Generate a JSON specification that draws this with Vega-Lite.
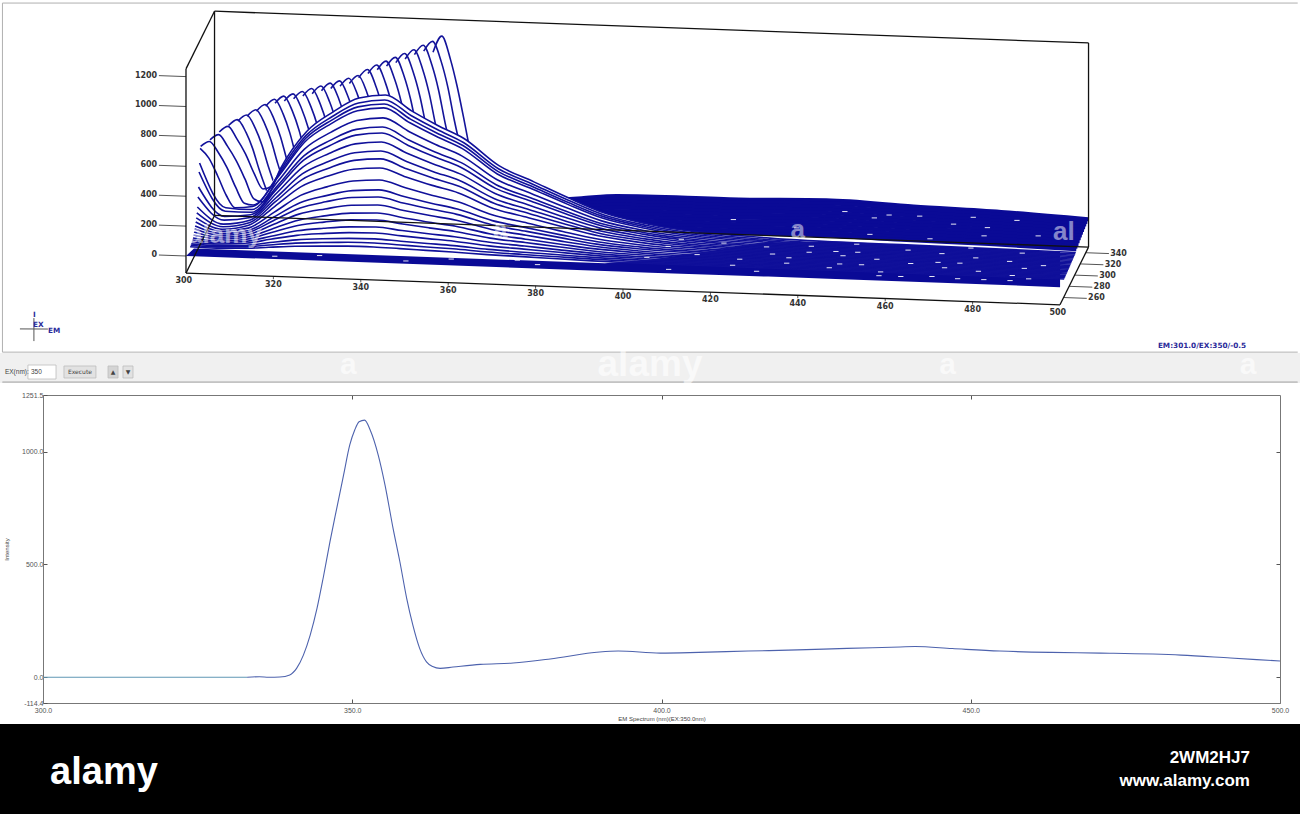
{"$schema":"https://vega.github.io/schema/vega-lite/v6.json","padding":0,"background":"#ffffff","spacing":0,"bounds":"flush","config":{"view":{"stroke":null},"concat":{"spacing":0}},
"datasets":{
"ridge":[
{"ex":306,"em":306,"i":658},{"ex":306,"em":308,"i":700},{"ex":306,"em":310,"i":616},{"ex":306,"em":311.5,"i":511},{"ex":306,"em":313,"i":371},{"ex":306,"em":315,"i":210},
{"ex":308,"em":308,"i":682},{"ex":308,"em":310,"i":725},{"ex":308,"em":312,"i":638},{"ex":308,"em":313.5,"i":529},{"ex":308,"em":315,"i":384},{"ex":308,"em":317,"i":218},
{"ex":310,"em":310,"i":710},{"ex":310,"em":312,"i":755},{"ex":310,"em":314,"i":664},{"ex":310,"em":315.5,"i":551},{"ex":310,"em":317,"i":400},{"ex":310,"em":319,"i":227},
{"ex":312,"em":312,"i":738},{"ex":312,"em":314,"i":785},{"ex":312,"em":316,"i":691},{"ex":312,"em":317.5,"i":573},{"ex":312,"em":319,"i":416},{"ex":312,"em":321,"i":236},
{"ex":314,"em":314,"i":766},{"ex":314,"em":316,"i":815},{"ex":314,"em":318,"i":717},{"ex":314,"em":319.5,"i":595},{"ex":314,"em":321,"i":432},{"ex":314,"em":323,"i":245},
{"ex":316,"em":316,"i":780},{"ex":316,"em":318,"i":830},{"ex":316,"em":320,"i":730},{"ex":316,"em":321.5,"i":606},{"ex":316,"em":323,"i":440},{"ex":316,"em":325,"i":249},
{"ex":318,"em":318,"i":790},{"ex":318,"em":320,"i":840},{"ex":318,"em":322,"i":739},{"ex":318,"em":323.5,"i":613},{"ex":318,"em":325,"i":445},{"ex":318,"em":327,"i":252},
{"ex":320,"em":320,"i":799},{"ex":320,"em":322,"i":850},{"ex":320,"em":324,"i":748},{"ex":320,"em":325.5,"i":621},{"ex":320,"em":327,"i":451},{"ex":320,"em":329,"i":255},
{"ex":322,"em":322,"i":813},{"ex":322,"em":324,"i":865},{"ex":322,"em":326,"i":761},{"ex":322,"em":327.5,"i":631},{"ex":322,"em":329,"i":458},{"ex":322,"em":331,"i":260},
{"ex":324,"em":324,"i":823},{"ex":324,"em":326,"i":876},{"ex":324,"em":328,"i":771},{"ex":324,"em":329.5,"i":639},{"ex":324,"em":331,"i":464},{"ex":324,"em":333,"i":263},
{"ex":326,"em":326,"i":837},{"ex":326,"em":328,"i":890},{"ex":326,"em":330,"i":783},{"ex":326,"em":331.5,"i":650},{"ex":326,"em":333,"i":472},{"ex":326,"em":335,"i":267},
{"ex":328,"em":328,"i":846},{"ex":328,"em":330,"i":900},{"ex":328,"em":332,"i":792},{"ex":328,"em":333.5,"i":657},{"ex":328,"em":335,"i":477},{"ex":328,"em":337,"i":270},
{"ex":330,"em":330,"i":857},{"ex":330,"em":332,"i":912},{"ex":330,"em":334,"i":803},{"ex":330,"em":335.5,"i":666},{"ex":330,"em":337,"i":483},{"ex":330,"em":339,"i":274},
{"ex":332,"em":332,"i":870},{"ex":332,"em":334,"i":925},{"ex":332,"em":336,"i":814},{"ex":332,"em":337.5,"i":675},{"ex":332,"em":339,"i":490},{"ex":332,"em":341,"i":278},
{"ex":334,"em":334,"i":902},{"ex":334,"em":336,"i":960},{"ex":334,"em":338,"i":845},{"ex":334,"em":339.5,"i":701},{"ex":334,"em":341,"i":509},{"ex":334,"em":343,"i":288},
{"ex":336,"em":336,"i":926},{"ex":336,"em":338,"i":985},{"ex":336,"em":340,"i":867},{"ex":336,"em":341.5,"i":719},{"ex":336,"em":343,"i":522},{"ex":336,"em":345,"i":296},
{"ex":338,"em":338,"i":945},{"ex":338,"em":340,"i":1005},{"ex":338,"em":342,"i":884},{"ex":338,"em":343.5,"i":734},{"ex":338,"em":345,"i":533},{"ex":338,"em":347,"i":302},
{"ex":340,"em":340,"i":964},{"ex":340,"em":342,"i":1025},{"ex":340,"em":344,"i":902},{"ex":340,"em":345.5,"i":748},{"ex":340,"em":347,"i":543},{"ex":340,"em":349,"i":308},
{"ex":342,"em":342,"i":982},{"ex":342,"em":344,"i":1045},{"ex":342,"em":346,"i":920},{"ex":342,"em":347.5,"i":763},{"ex":342,"em":349,"i":554},{"ex":342,"em":351,"i":314},
{"ex":344,"em":344,"i":1001},{"ex":344,"em":346,"i":1065},{"ex":344,"em":348,"i":937},{"ex":344,"em":349.5,"i":777},{"ex":344,"em":351,"i":564},{"ex":344,"em":353,"i":320},
{"ex":346,"em":346,"i":1025},{"ex":346,"em":348,"i":1090},{"ex":346,"em":350,"i":959},{"ex":346,"em":351.5,"i":796},{"ex":346,"em":353,"i":578},{"ex":346,"em":355,"i":327},
{"ex":348,"em":348,"i":1043},{"ex":348,"em":350,"i":1110},{"ex":348,"em":352,"i":977},{"ex":348,"em":353.5,"i":810},{"ex":348,"em":355,"i":588},{"ex":348,"em":357,"i":333},
{"ex":350,"em":350,"i":1030},{"ex":350,"em":352,"i":1140},{"ex":350,"em":354,"i":985},{"ex":350,"em":355.5,"i":810},{"ex":350,"em":357,"i":600},{"ex":350,"em":359,"i":300}],
"rear":[
{"ex":350,"em":376,"i":66},{"ex":350,"em":384,"i":90},{"ex":350,"em":392,"i":113},{"ex":350,"em":420,"i":120},{"ex":350,"em":440,"i":135},{"ex":350,"em":460,"i":115},{"ex":350,"em":480,"i":100},{"ex":350,"em":500,"i":72},
{"ex":346,"em":376,"i":63},{"ex":346,"em":384,"i":86},{"ex":346,"em":392,"i":108},{"ex":346,"em":420,"i":115},{"ex":346,"em":440,"i":130},{"ex":346,"em":460,"i":110},{"ex":346,"em":480,"i":96},{"ex":346,"em":500,"i":69},
{"ex":342,"em":376,"i":60},{"ex":342,"em":384,"i":83},{"ex":342,"em":392,"i":104},{"ex":342,"em":420,"i":110},{"ex":342,"em":440,"i":124},{"ex":342,"em":460,"i":104},{"ex":342,"em":480,"i":92},{"ex":342,"em":500,"i":66},
{"ex":338,"em":376,"i":57},{"ex":338,"em":384,"i":79},{"ex":338,"em":392,"i":99},{"ex":338,"em":420,"i":106},{"ex":338,"em":440,"i":119},{"ex":338,"em":460,"i":100},{"ex":338,"em":480,"i":88},{"ex":338,"em":500,"i":63},
{"ex":334,"em":376,"i":54},{"ex":334,"em":384,"i":75},{"ex":334,"em":392,"i":94},{"ex":334,"em":420,"i":100},{"ex":334,"em":440,"i":112},{"ex":334,"em":460,"i":94},{"ex":334,"em":480,"i":83},{"ex":334,"em":500,"i":60},
{"ex":330,"em":376,"i":50},{"ex":330,"em":384,"i":70},{"ex":330,"em":392,"i":88},{"ex":330,"em":420,"i":94},{"ex":330,"em":440,"i":105},{"ex":330,"em":460,"i":88},{"ex":330,"em":480,"i":78},{"ex":330,"em":500,"i":56},
{"ex":326,"em":376,"i":47},{"ex":326,"em":384,"i":66},{"ex":326,"em":392,"i":82},{"ex":326,"em":420,"i":88},{"ex":326,"em":440,"i":99},{"ex":326,"em":460,"i":83},{"ex":326,"em":480,"i":73},{"ex":326,"em":500,"i":53},
{"ex":322,"em":376,"i":44},{"ex":322,"em":384,"i":61},{"ex":322,"em":392,"i":77},{"ex":322,"em":420,"i":82},{"ex":322,"em":440,"i":92},{"ex":322,"em":460,"i":77},{"ex":322,"em":480,"i":68},{"ex":322,"em":500,"i":49},
{"ex":318,"em":376,"i":41},{"ex":318,"em":384,"i":57},{"ex":318,"em":392,"i":71},{"ex":318,"em":420,"i":76},{"ex":318,"em":440,"i":85},{"ex":318,"em":460,"i":71},{"ex":318,"em":480,"i":63},{"ex":318,"em":500,"i":45},
{"ex":314,"em":376,"i":38},{"ex":314,"em":384,"i":52},{"ex":314,"em":392,"i":66},{"ex":314,"em":420,"i":70},{"ex":314,"em":440,"i":78},{"ex":314,"em":460,"i":66},{"ex":314,"em":480,"i":58},{"ex":314,"em":500,"i":42},
{"ex":310,"em":376,"i":35},{"ex":310,"em":384,"i":48},{"ex":310,"em":392,"i":60},{"ex":310,"em":420,"i":64},{"ex":310,"em":440,"i":72},{"ex":310,"em":460,"i":60},{"ex":310,"em":480,"i":53},{"ex":310,"em":500,"i":38},
{"ex":306,"em":376,"i":33},{"ex":306,"em":384,"i":45},{"ex":306,"em":392,"i":57},{"ex":306,"em":420,"i":60},{"ex":306,"em":440,"i":68},{"ex":306,"em":460,"i":57},{"ex":306,"em":480,"i":50},{"ex":306,"em":500,"i":36}],
"mask":[{"ex":304,"em":313,"i":150},{"ex":304,"em":318,"i":390},{"ex":304,"em":324,"i":645},{"ex":304,"em":330,"i":781},{"ex":304,"em":336,"i":881},{"ex":304,"em":342,"i":908},{"ex":304,"em":348,"i":808},{"ex":304,"em":354,"i":717},{"ex":304,"em":360,"i":636},{"ex":304,"em":368,"i":463},{"ex":304,"em":376,"i":363},{"ex":304,"em":384,"i":263},{"ex":304,"em":392,"i":173},{"ex":304,"em":402,"i":109},{"ex":304,"em":430,"i":44},{"ex":304,"em":460,"i":32},{"ex":304,"em":500,"i":22}],
"floor":[{"ex":247,"em":300,"i":0},{"ex":260,"em":301,"i":2},{"ex":260,"em":395,"i":3},{"ex":268,"em":405,"i":8},{"ex":284,"em":418,"i":22},{"ex":298,"em":430,"i":37},{"ex":304,"em":445,"i":38},{"ex":304,"em":496.4,"i":22}],
"front":[
{"ex":262,"em":300,"i":6},{"ex":262,"em":306,"i":3},{"ex":262,"em":312,"i":8},{"ex":262,"em":318,"i":21},{"ex":262,"em":324,"i":35},{"ex":262,"em":330,"i":42},{"ex":262,"em":336,"i":48},{"ex":262,"em":342,"i":49},{"ex":262,"em":348,"i":44},{"ex":262,"em":354,"i":39},{"ex":262,"em":360,"i":34},{"ex":262,"em":368,"i":25},{"ex":262,"em":376,"i":20},{"ex":262,"em":384,"i":14},{"ex":262,"em":392,"i":9},{"ex":262,"em":402,"i":6},{"ex":262,"em":430,"i":4},{"ex":262,"em":460,"i":3},{"ex":262,"em":500,"i":2},
{"ex":264,"em":300,"i":8},{"ex":264,"em":306,"i":4},{"ex":264,"em":312,"i":10},{"ex":264,"em":318,"i":29},{"ex":264,"em":324,"i":48},{"ex":264,"em":330,"i":58},{"ex":264,"em":336,"i":66},{"ex":264,"em":342,"i":68},{"ex":264,"em":348,"i":61},{"ex":264,"em":354,"i":54},{"ex":264,"em":360,"i":48},{"ex":264,"em":368,"i":35},{"ex":264,"em":376,"i":27},{"ex":264,"em":384,"i":20},{"ex":264,"em":392,"i":13},{"ex":264,"em":402,"i":8},{"ex":264,"em":430,"i":5},{"ex":264,"em":460,"i":4},{"ex":264,"em":500,"i":3},
{"ex":266,"em":300,"i":10},{"ex":266,"em":306,"i":6},{"ex":266,"em":312,"i":13},{"ex":266,"em":318,"i":38},{"ex":266,"em":324,"i":62},{"ex":266,"em":330,"i":76},{"ex":266,"em":336,"i":85},{"ex":266,"em":342,"i":88},{"ex":266,"em":348,"i":78},{"ex":266,"em":354,"i":70},{"ex":266,"em":360,"i":62},{"ex":266,"em":368,"i":45},{"ex":266,"em":376,"i":35},{"ex":266,"em":384,"i":26},{"ex":266,"em":392,"i":17},{"ex":266,"em":402,"i":11},{"ex":266,"em":430,"i":6},{"ex":266,"em":460,"i":5},{"ex":266,"em":500,"i":3},
{"ex":268,"em":300,"i":15},{"ex":268,"em":306,"i":8},{"ex":268,"em":312,"i":19},{"ex":268,"em":318,"i":52},{"ex":268,"em":324,"i":85},{"ex":268,"em":330,"i":103},{"ex":268,"em":336,"i":116},{"ex":268,"em":342,"i":120},{"ex":268,"em":348,"i":107},{"ex":268,"em":354,"i":95},{"ex":268,"em":360,"i":84},{"ex":268,"em":368,"i":61},{"ex":268,"em":376,"i":48},{"ex":268,"em":384,"i":35},{"ex":268,"em":392,"i":23},{"ex":268,"em":402,"i":14},{"ex":268,"em":430,"i":8},{"ex":268,"em":460,"i":6},{"ex":268,"em":500,"i":4},
{"ex":270,"em":300,"i":20},{"ex":270,"em":306,"i":10},{"ex":270,"em":312,"i":24},{"ex":270,"em":318,"i":65},{"ex":270,"em":324,"i":108},{"ex":270,"em":330,"i":131},{"ex":270,"em":336,"i":147},{"ex":270,"em":342,"i":152},{"ex":270,"em":348,"i":135},{"ex":270,"em":354,"i":120},{"ex":270,"em":360,"i":106},{"ex":270,"em":368,"i":78},{"ex":270,"em":376,"i":61},{"ex":270,"em":384,"i":44},{"ex":270,"em":392,"i":29},{"ex":270,"em":402,"i":18},{"ex":270,"em":430,"i":9},{"ex":270,"em":460,"i":7},{"ex":270,"em":500,"i":5},
{"ex":272,"em":300,"i":27},{"ex":272,"em":306,"i":13},{"ex":272,"em":312,"i":30},{"ex":272,"em":318,"i":83},{"ex":272,"em":324,"i":136},{"ex":272,"em":330,"i":165},{"ex":272,"em":336,"i":186},{"ex":272,"em":342,"i":192},{"ex":272,"em":348,"i":171},{"ex":272,"em":354,"i":152},{"ex":272,"em":360,"i":134},{"ex":272,"em":368,"i":98},{"ex":272,"em":376,"i":77},{"ex":272,"em":384,"i":56},{"ex":272,"em":392,"i":36},{"ex":272,"em":402,"i":23},{"ex":272,"em":430,"i":11},{"ex":272,"em":460,"i":8},{"ex":272,"em":500,"i":5},
{"ex":274,"em":300,"i":39},{"ex":274,"em":306,"i":18},{"ex":274,"em":312,"i":37},{"ex":274,"em":318,"i":99},{"ex":274,"em":324,"i":164},{"ex":274,"em":330,"i":199},{"ex":274,"em":336,"i":224},{"ex":274,"em":342,"i":231},{"ex":274,"em":348,"i":206},{"ex":274,"em":354,"i":182},{"ex":274,"em":360,"i":162},{"ex":274,"em":368,"i":118},{"ex":274,"em":376,"i":92},{"ex":274,"em":384,"i":67},{"ex":274,"em":392,"i":44},{"ex":274,"em":402,"i":28},{"ex":274,"em":430,"i":12},{"ex":274,"em":460,"i":9},{"ex":274,"em":500,"i":6},
{"ex":276,"em":300,"i":52},{"ex":276,"em":306,"i":23},{"ex":276,"em":312,"i":44},{"ex":276,"em":318,"i":119},{"ex":276,"em":324,"i":197},{"ex":276,"em":330,"i":238},{"ex":276,"em":336,"i":269},{"ex":276,"em":342,"i":277},{"ex":276,"em":348,"i":247},{"ex":276,"em":354,"i":219},{"ex":276,"em":360,"i":194},{"ex":276,"em":368,"i":141},{"ex":276,"em":376,"i":111},{"ex":276,"em":384,"i":80},{"ex":276,"em":392,"i":53},{"ex":276,"em":402,"i":33},{"ex":276,"em":430,"i":14},{"ex":276,"em":460,"i":10},{"ex":276,"em":500,"i":7},
{"ex":278,"em":300,"i":64},{"ex":278,"em":306,"i":28},{"ex":278,"em":312,"i":52},{"ex":278,"em":318,"i":139},{"ex":278,"em":324,"i":229},{"ex":278,"em":330,"i":278},{"ex":278,"em":336,"i":313},{"ex":278,"em":342,"i":323},{"ex":278,"em":348,"i":287},{"ex":278,"em":354,"i":255},{"ex":278,"em":360,"i":226},{"ex":278,"em":368,"i":165},{"ex":278,"em":376,"i":129},{"ex":278,"em":384,"i":94},{"ex":278,"em":392,"i":61},{"ex":278,"em":402,"i":39},{"ex":278,"em":430,"i":16},{"ex":278,"em":460,"i":12},{"ex":278,"em":500,"i":8},
{"ex":280,"em":300,"i":77},{"ex":280,"em":306,"i":33},{"ex":280,"em":312,"i":58},{"ex":280,"em":318,"i":156},{"ex":280,"em":324,"i":258},{"ex":280,"em":330,"i":312},{"ex":280,"em":336,"i":352},{"ex":280,"em":342,"i":363},{"ex":280,"em":348,"i":323},{"ex":280,"em":354,"i":287},{"ex":280,"em":360,"i":254},{"ex":280,"em":368,"i":185},{"ex":280,"em":376,"i":145},{"ex":280,"em":384,"i":105},{"ex":280,"em":392,"i":69},{"ex":280,"em":402,"i":44},{"ex":280,"em":430,"i":18},{"ex":280,"em":460,"i":13},{"ex":280,"em":500,"i":9},
{"ex":282,"em":300,"i":96},{"ex":282,"em":306,"i":40},{"ex":282,"em":312,"i":68},{"ex":282,"em":318,"i":181},{"ex":282,"em":324,"i":300},{"ex":282,"em":330,"i":363},{"ex":282,"em":336,"i":409},{"ex":282,"em":342,"i":422},{"ex":282,"em":348,"i":376},{"ex":282,"em":354,"i":333},{"ex":282,"em":360,"i":295},{"ex":282,"em":368,"i":215},{"ex":282,"em":376,"i":169},{"ex":282,"em":384,"i":122},{"ex":282,"em":392,"i":80},{"ex":282,"em":402,"i":51},{"ex":282,"em":430,"i":20},{"ex":282,"em":460,"i":15},{"ex":282,"em":500,"i":10},
{"ex":284,"em":300,"i":116},{"ex":284,"em":306,"i":47},{"ex":284,"em":312,"i":80},{"ex":284,"em":318,"i":213},{"ex":284,"em":324,"i":351},{"ex":284,"em":330,"i":426},{"ex":284,"em":336,"i":480},{"ex":284,"em":342,"i":495},{"ex":284,"em":348,"i":441},{"ex":284,"em":354,"i":391},{"ex":284,"em":360,"i":347},{"ex":284,"em":368,"i":252},{"ex":284,"em":376,"i":198},{"ex":284,"em":384,"i":144},{"ex":284,"em":392,"i":94},{"ex":284,"em":402,"i":59},{"ex":284,"em":430,"i":22},{"ex":284,"em":460,"i":16},{"ex":284,"em":500,"i":11},
{"ex":286,"em":300,"i":142},{"ex":286,"em":306,"i":56},{"ex":286,"em":312,"i":89},{"ex":286,"em":318,"i":236},{"ex":286,"em":324,"i":389},{"ex":286,"em":330,"i":471},{"ex":286,"em":336,"i":532},{"ex":286,"em":342,"i":548},{"ex":286,"em":348,"i":488},{"ex":286,"em":354,"i":433},{"ex":286,"em":360,"i":384},{"ex":286,"em":368,"i":279},{"ex":286,"em":376,"i":219},{"ex":286,"em":384,"i":159},{"ex":286,"em":392,"i":104},{"ex":286,"em":402,"i":66},{"ex":286,"em":430,"i":24},{"ex":286,"em":460,"i":18},{"ex":286,"em":500,"i":12},
{"ex":288,"em":300,"i":174},{"ex":288,"em":306,"i":66},{"ex":288,"em":312,"i":98},{"ex":288,"em":318,"i":255},{"ex":288,"em":324,"i":421},{"ex":288,"em":330,"i":510},{"ex":288,"em":336,"i":575},{"ex":288,"em":342,"i":593},{"ex":288,"em":348,"i":528},{"ex":288,"em":354,"i":468},{"ex":288,"em":360,"i":415},{"ex":288,"em":368,"i":302},{"ex":288,"em":376,"i":237},{"ex":288,"em":384,"i":172},{"ex":288,"em":392,"i":113},{"ex":288,"em":402,"i":71},{"ex":288,"em":430,"i":26},{"ex":288,"em":460,"i":19},{"ex":288,"em":500,"i":13},
{"ex":290,"em":300,"i":233},{"ex":290,"em":306,"i":85},{"ex":290,"em":312,"i":109},{"ex":290,"em":318,"i":278},{"ex":290,"em":324,"i":459},{"ex":290,"em":330,"i":556},{"ex":290,"em":336,"i":627},{"ex":290,"em":342,"i":646},{"ex":290,"em":348,"i":575},{"ex":290,"em":354,"i":510},{"ex":290,"em":360,"i":452},{"ex":290,"em":368,"i":329},{"ex":290,"em":376,"i":258},{"ex":290,"em":384,"i":187},{"ex":290,"em":392,"i":123},{"ex":290,"em":402,"i":78},{"ex":290,"em":430,"i":28},{"ex":290,"em":460,"i":21},{"ex":290,"em":500,"i":14},
{"ex":292,"em":300,"i":293},{"ex":292,"em":306,"i":103},{"ex":292,"em":312,"i":120},{"ex":292,"em":318,"i":301},{"ex":292,"em":324,"i":496},{"ex":292,"em":330,"i":601},{"ex":292,"em":336,"i":678},{"ex":292,"em":342,"i":699},{"ex":292,"em":348,"i":622},{"ex":292,"em":354,"i":552},{"ex":292,"em":360,"i":489},{"ex":292,"em":368,"i":356},{"ex":292,"em":376,"i":280},{"ex":292,"em":384,"i":203},{"ex":292,"em":392,"i":133},{"ex":292,"em":402,"i":84},{"ex":292,"em":430,"i":30},{"ex":292,"em":460,"i":22},{"ex":292,"em":500,"i":15},
{"ex":294,"em":300,"i":386},{"ex":294,"em":306,"i":130},{"ex":294,"em":312,"i":129},{"ex":294,"em":318,"i":314},{"ex":294,"em":324,"i":519},{"ex":294,"em":330,"i":629},{"ex":294,"em":336,"i":709},{"ex":294,"em":342,"i":731},{"ex":294,"em":348,"i":651},{"ex":294,"em":354,"i":577},{"ex":294,"em":360,"i":512},{"ex":294,"em":368,"i":373},{"ex":294,"em":376,"i":292},{"ex":294,"em":384,"i":212},{"ex":294,"em":392,"i":139},{"ex":294,"em":402,"i":88},{"ex":294,"em":430,"i":32},{"ex":294,"em":460,"i":24},{"ex":294,"em":500,"i":16},
{"ex":296,"em":300,"i":439},{"ex":296,"em":306,"i":146},{"ex":296,"em":312,"i":140},{"ex":296,"em":318,"i":338},{"ex":296,"em":324,"i":557},{"ex":296,"em":330,"i":675},{"ex":296,"em":336,"i":761},{"ex":296,"em":342,"i":785},{"ex":296,"em":348,"i":699},{"ex":296,"em":354,"i":620},{"ex":296,"em":360,"i":550},{"ex":296,"em":368,"i":400},{"ex":296,"em":376,"i":314},{"ex":296,"em":384,"i":228},{"ex":296,"em":392,"i":149},{"ex":296,"em":402,"i":94},{"ex":296,"em":430,"i":35},{"ex":296,"em":460,"i":26},{"ex":296,"em":500,"i":17},
{"ex":298,"em":300,"i":529},{"ex":298,"em":302,"i":466},{"ex":298,"em":304,"i":350},{"ex":298,"em":306,"i":220},{"ex":298,"em":308,"i":140},{"ex":298,"em":312,"i":153},{"ex":298,"em":318,"i":363},{"ex":298,"em":324,"i":599},{"ex":298,"em":330,"i":726},{"ex":298,"em":336,"i":819},{"ex":298,"em":342,"i":844},{"ex":298,"em":348,"i":751},{"ex":298,"em":354,"i":667},{"ex":298,"em":360,"i":591},{"ex":298,"em":368,"i":430},{"ex":298,"em":376,"i":338},{"ex":298,"em":384,"i":245},{"ex":298,"em":392,"i":160},{"ex":298,"em":402,"i":101},{"ex":298,"em":430,"i":37},{"ex":298,"em":460,"i":27},{"ex":298,"em":500,"i":18},
{"ex":300,"em":300,"i":535},{"ex":300,"em":302,"i":570},{"ex":300,"em":304,"i":500},{"ex":300,"em":306,"i":400},{"ex":300,"em":308,"i":270},{"ex":300,"em":310,"i":165},{"ex":300,"em":312,"i":155},{"ex":300,"em":318,"i":371},{"ex":300,"em":324,"i":613},{"ex":300,"em":330,"i":742},{"ex":300,"em":336,"i":837},{"ex":300,"em":342,"i":863},{"ex":300,"em":348,"i":768},{"ex":300,"em":354,"i":682},{"ex":300,"em":360,"i":604},{"ex":300,"em":368,"i":440},{"ex":300,"em":376,"i":345},{"ex":300,"em":384,"i":250},{"ex":300,"em":392,"i":164},{"ex":300,"em":402,"i":104},{"ex":300,"em":430,"i":39},{"ex":300,"em":460,"i":29},{"ex":300,"em":500,"i":19},
{"ex":302,"em":302,"i":573},{"ex":302,"em":304,"i":610},{"ex":302,"em":306,"i":535},{"ex":302,"em":308,"i":440},{"ex":302,"em":310,"i":320},{"ex":302,"em":312,"i":190},{"ex":302,"em":314,"i":170},{"ex":302,"em":318,"i":379},{"ex":302,"em":324,"i":626},{"ex":302,"em":330,"i":759},{"ex":302,"em":336,"i":856},{"ex":302,"em":342,"i":882},{"ex":302,"em":348,"i":785},{"ex":302,"em":354,"i":697},{"ex":302,"em":360,"i":617},{"ex":302,"em":368,"i":450},{"ex":302,"em":376,"i":353},{"ex":302,"em":384,"i":256},{"ex":302,"em":392,"i":168},{"ex":302,"em":402,"i":106},{"ex":302,"em":430,"i":41},{"ex":302,"em":460,"i":30},{"ex":302,"em":500,"i":20},
{"ex":304,"em":304,"i":620},{"ex":304,"em":306,"i":660},{"ex":304,"em":308,"i":580},{"ex":304,"em":310,"i":480},{"ex":304,"em":312,"i":350},{"ex":304,"em":314,"i":250},{"ex":304,"em":316,"i":270},{"ex":304,"em":318,"i":390},{"ex":304,"em":324,"i":645},{"ex":304,"em":330,"i":781},{"ex":304,"em":336,"i":881},{"ex":304,"em":342,"i":908},{"ex":304,"em":348,"i":808},{"ex":304,"em":354,"i":717},{"ex":304,"em":360,"i":636},{"ex":304,"em":368,"i":463},{"ex":304,"em":376,"i":363},{"ex":304,"em":384,"i":263},{"ex":304,"em":392,"i":173},{"ex":304,"em":402,"i":109},{"ex":304,"em":430,"i":44},{"ex":304,"em":460,"i":32},{"ex":304,"em":500,"i":22}],
"dashes":[{"ex":340,"em":455,"i":90},{"ex":340,"em":462,"i":90},{"ex":336,"em":470,"i":60},{"ex":332,"em":478,"i":60},{"ex":344,"em":484,"i":70},{"ex":330,"em":420,"i":60},{"ex":322,"em":435,"i":50},{"ex":318,"em":452,"i":40},{"ex":314,"em":466,"i":40},{"ex":326,"em":490,"i":40},{"ex":300,"em":410,"i":30},{"ex":296,"em":420,"i":30},{"ex":292,"em":430,"i":30},{"ex":288,"em":440,"i":20},{"ex":284,"em":448,"i":20},{"ex":280,"em":456,"i":20},{"ex":276,"em":464,"i":15},{"ex":272,"em":472,"i":10},{"ex":268,"em":480,"i":10},{"ex":264,"em":488,"i":5},{"ex":298,"em":462,"i":20},{"ex":294,"em":470,"i":20},{"ex":290,"em":478,"i":15},{"ex":286,"em":486,"i":15},{"ex":282,"em":494,"i":10},{"ex":278,"em":415,"i":15},{"ex":274,"em":425,"i":10},{"ex":270,"em":436,"i":10},{"ex":266,"em":446,"i":5},{"ex":262,"em":458,"i":5},{"ex":258,"em":470,"i":2},{"ex":256,"em":430,"i":2},{"ex":254,"em":380,"i":1},{"ex":252,"em":350,"i":1},{"ex":256,"em":330,"i":1},{"ex":252,"em":320,"i":1},{"ex":258,"em":360,"i":2},{"ex":254,"em":410,"i":1},{"ex":260,"em":375,"i":3},{"ex":304,"em":476,"i":26},{"ex":300,"em":488,"i":20},{"ex":296,"em":440,"i":30},{"ex":284,"em":408,"i":40},{"ex":276,"em":490,"i":10},{"ex":270,"em":404,"i":15},{"ex":256,"em":458,"i":2},{"ex":256,"em":463,"i":2},{"ex":256,"em":476,"i":1},{"ex":256,"em":482,"i":1},{"ex":256,"em":488,"i":1},{"ex":280,"em":470,"i":14},{"ex":280,"em":475,"i":14},{"ex":290,"em":446,"i":24},{"ex":290,"em":451,"i":24},{"ex":272,"em":448,"i":10},{"ex":272,"em":453,"i":10},{"ex":264,"em":424,"i":6},{"ex":282,"em":432,"i":22},{"ex":302,"em":450,"i":32},{"ex":278,"em":436,"i":16},{"ex":260,"em":492,"i":2},{"ex":338,"em":445,"i":110},{"ex":334,"em":452,"i":90},{"ex":344,"em":474,"i":80},{"ex":320,"em":478,"i":50}],
"frame":[{"g":"fb","em":300,"ex":247,"i":-114.4},{"g":"fb","em":500,"ex":247,"i":-114.4},{"g":"fl","em":300,"ex":247,"i":-114.4},{"g":"fl","em":300,"ex":247,"i":1251.5},{"g":"st","em":300,"ex":247,"i":1251.5},{"g":"st","em":300,"ex":350,"i":1251.5},{"g":"sb","em":300,"ex":247,"i":-114.4},{"g":"sb","em":300,"ex":350,"i":-114.4},{"g":"rl","em":300,"ex":350,"i":-114.4},{"g":"rl","em":300,"ex":350,"i":1251.5},{"g":"rt","em":300,"ex":350,"i":1251.5},{"g":"rt","em":500,"ex":350,"i":1251.5},{"g":"rr","em":500,"ex":350,"i":1251.5},{"g":"rr","em":500,"ex":350,"i":-114.4},{"g":"rb","em":300,"ex":350,"i":-114.4},{"g":"rb","em":500,"ex":350,"i":-114.4},{"g":"fr","em":500,"ex":247,"i":-114.4},{"g":"fr","em":500,"ex":350,"i":-114.4}],
"ticks":[{"g":"i0","em":293.8,"ex":247,"i":0},{"g":"i0","em":300,"ex":247,"i":0},{"g":"i2","em":293.8,"ex":247,"i":200},{"g":"i2","em":300,"ex":247,"i":200},{"g":"i4","em":293.8,"ex":247,"i":400},{"g":"i4","em":300,"ex":247,"i":400},{"g":"i6","em":293.8,"ex":247,"i":600},{"g":"i6","em":300,"ex":247,"i":600},{"g":"i8","em":293.8,"ex":247,"i":800},{"g":"i8","em":300,"ex":247,"i":800},{"g":"i10","em":293.8,"ex":247,"i":1000},{"g":"i10","em":300,"ex":247,"i":1000},{"g":"i12","em":293.8,"ex":247,"i":1200},{"g":"i12","em":300,"ex":247,"i":1200},
{"g":"e32","em":320,"ex":247,"i":-114.4},{"g":"e32","em":320,"ex":247,"i":-134},{"g":"e34","em":340,"ex":247,"i":-114.4},{"g":"e34","em":340,"ex":247,"i":-134},{"g":"e36","em":360,"ex":247,"i":-114.4},{"g":"e36","em":360,"ex":247,"i":-134},{"g":"e38","em":380,"ex":247,"i":-114.4},{"g":"e38","em":380,"ex":247,"i":-134},{"g":"e40","em":400,"ex":247,"i":-114.4},{"g":"e40","em":400,"ex":247,"i":-134},{"g":"e42","em":420,"ex":247,"i":-114.4},{"g":"e42","em":420,"ex":247,"i":-134},{"g":"e44","em":440,"ex":247,"i":-114.4},{"g":"e44","em":440,"ex":247,"i":-134},{"g":"e46","em":460,"ex":247,"i":-114.4},{"g":"e46","em":460,"ex":247,"i":-134},{"g":"e48","em":480,"ex":247,"i":-114.4},{"g":"e48","em":480,"ex":247,"i":-134},
{"g":"x26","em":500,"ex":260,"i":-114.4},{"g":"x26","em":505.3,"ex":260,"i":-114.4},{"g":"x28","em":500,"ex":280,"i":-114.4},{"g":"x28","em":505.3,"ex":280,"i":-114.4},{"g":"x30","em":500,"ex":300,"i":-114.4},{"g":"x30","em":505.3,"ex":300,"i":-114.4},{"g":"x32","em":500,"ex":320,"i":-114.4},{"g":"x32","em":505.3,"ex":320,"i":-114.4},{"g":"x34","em":500,"ex":340,"i":-114.4},{"g":"x34","em":505.3,"ex":340,"i":-114.4},
{"g":"cx","em":262,"ex":247,"i":-528},{"g":"cx","em":268.4,"ex":247,"i":-522},{"g":"cy","em":265.2,"ex":247,"i":-452},{"g":"cy","em":265.2,"ex":247,"i":-606}],
"labelsI":[{"t":"0","em":293.4,"ex":247,"i":0},{"t":"200","em":293.4,"ex":247,"i":200},{"t":"400","em":293.4,"ex":247,"i":400},{"t":"600","em":293.4,"ex":247,"i":600},{"t":"800","em":293.4,"ex":247,"i":800},{"t":"1000","em":293.4,"ex":247,"i":1000},{"t":"1200","em":293.4,"ex":247,"i":1200}],
"labelsEm":[{"t":"300","em":299.5,"ex":247,"i":-170},{"t":"320","em":320,"ex":247,"i":-170},{"t":"340","em":340,"ex":247,"i":-170},{"t":"360","em":360,"ex":247,"i":-170},{"t":"380","em":380,"ex":247,"i":-170},{"t":"400","em":400,"ex":247,"i":-170},{"t":"420","em":420,"ex":247,"i":-170},{"t":"440","em":440,"ex":247,"i":-170},{"t":"460","em":460,"ex":247,"i":-170},{"t":"480","em":480,"ex":247,"i":-170},{"t":"500","em":499.5,"ex":247,"i":-170}],
"labelsEx":[{"t":"260","em":505.6,"ex":260,"i":-114.4},{"t":"280","em":505.6,"ex":280,"i":-114.4},{"t":"300","em":505.6,"ex":300,"i":-114.4},{"t":"320","em":505.6,"ex":320,"i":-114.4},{"t":"340","em":505.6,"ex":340,"i":-114.4}],
"notes":[{"t":"EM:301.0/EX:350/-0.5","em":522.4,"ex":247,"i":-365},{"t":"I","em":265,"ex":247,"i":-431},{"t":"EX","em":265,"ex":247,"i":-498},{"t":"EM","em":268.4,"ex":247,"i":-534}],
"marks":[{"t":"alamy","em":308.9,"ex":247,"i":150},{"t":"a","em":371.9,"ex":247,"i":250},{"t":"a","em":440,"ex":247,"i":322},{"t":"al","em":500.9,"ex":247,"i":373}],
"panelEdge":[{"g":"top","u":258,"v":1692},{"g":"top","u":554.4,"v":1692},{"g":"left","u":258,"v":1692},{"g":"left","u":258,"v":-643},{"g":"bottom","u":258,"v":-643},{"g":"bottom","u":554.4,"v":-643}],
"spectrum":[{"s":"a","em":300,"i":0},{"s":"a","em":310,"i":0},{"s":"a","em":320,"i":0},{"s":"a","em":333,"i":0},{"s":"b","em":333,"i":0},{"s":"b","em":335,"i":2},{"s":"b","em":336.5,"i":0},{"s":"b","em":338.3,"i":1},{"s":"b","em":339.9,"i":10},{"s":"b","em":341,"i":39},{"s":"b","em":342.1,"i":98},{"s":"b","em":343.2,"i":187},{"s":"b","em":344.3,"i":305},{"s":"b","em":345.3,"i":440},{"s":"b","em":346.4,"i":601},{"s":"b","em":347.5,"i":750},{"s":"b","em":348.6,"i":897},{"s":"b","em":349.6,"i":1030},{"s":"b","em":350.4,"i":1096},{"s":"b","em":351.1,"i":1133},{"s":"b","em":352,"i":1140},{"s":"b","em":352.9,"i":1096},{"s":"b","em":354.2,"i":985},{"s":"b","em":355.3,"i":852},{"s":"b","em":356.6,"i":660},{"s":"b","em":357.7,"i":512},{"s":"b","em":358.8,"i":350},{"s":"b","em":359.8,"i":231},{"s":"b","em":360.9,"i":128},{"s":"b","em":362,"i":68},{"s":"b","em":363,"i":47},{"s":"b","em":364.2,"i":39},{"s":"b","em":366.3,"i":45},{"s":"b","em":370.7,"i":57},{"s":"b","em":376,"i":63},{"s":"b","em":382,"i":81},{"s":"b","em":390,"i":112},{"s":"b","em":393,"i":116},{"s":"b","em":399.8,"i":107},{"s":"b","em":406,"i":110},{"s":"b","em":414,"i":116},{"s":"b","em":422,"i":121},{"s":"b","em":430,"i":128},{"s":"b","em":438.6,"i":134},{"s":"b","em":441,"i":136},{"s":"b","em":447,"i":127},{"s":"b","em":454.7,"i":116},{"s":"b","em":463,"i":110},{"s":"b","em":471,"i":107},{"s":"b","em":484,"i":98},{"s":"b","em":492,"i":85},{"s":"b","em":500,"i":72}]
},
"vconcat":[
{"width":1300,"height":353,
"encoding":{"x":{"field":"u","type":"quantitative","scale":{"domain":[257.44,554.92],"nice":false,"zero":false},"axis":null},"y":{"field":"v","type":"quantitative","scale":{"domain":[-648.8,1712.4],"nice":false,"zero":false},"axis":null}},
"layer":[
{"data":{"name":"panelEdge"},"mark":{"type":"line","color":"#b0b0b0","strokeWidth":1},"encoding":{"detail":{"field":"g"}}},
{"data":{"name":"ridge"},"transform":[{"calculate":"datum.em+(datum.ex-247)*0.0634","as":"u"},{"calculate":"datum.i+(datum.ex-247)*3.746-(datum.em-300)*1.06","as":"v"}],"mark":{"type":"line","color":"#14149a","strokeWidth":1.6,"interpolate":"monotone"},"encoding":{"detail":{"field":"ex"}}},
{"data":{"name":"rear"},"transform":[{"calculate":"datum.em+(datum.ex-247)*0.0634","as":"u"},{"calculate":"datum.i+(datum.ex-247)*3.746-(datum.em-300)*1.06","as":"v"}],"mark":{"type":"line","color":"#0a0a96","strokeWidth":4,"interpolate":"monotone"},"encoding":{"detail":{"field":"ex"}}},
{"data":{"name":"mask"},"transform":[{"calculate":"datum.em+(datum.ex-247)*0.0634","as":"u"},{"calculate":"datum.i+(datum.ex-247)*3.746-(datum.em-300)*1.06","as":"v"},{"calculate":"-(datum.em-300)*1.06","as":"v0"}],"mark":{"type":"area","color":"#ffffff","interpolate":"monotone"},"encoding":{"y2":{"field":"v0"}}},
{"data":{"name":"floor"},"transform":[{"calculate":"datum.em+(datum.ex-247)*0.0634","as":"u"},{"calculate":"datum.i+(datum.ex-247)*3.746-(datum.em-300)*1.06","as":"v"},{"calculate":"-(datum.em-300)*1.06","as":"v0"}],"mark":{"type":"area","color":"#0a0a96"},"encoding":{"y2":{"field":"v0"}}},
{"data":{"name":"front"},"transform":[{"calculate":"datum.em+(datum.ex-247)*0.0634","as":"u"},{"calculate":"datum.i+(datum.ex-247)*3.746-(datum.em-300)*1.06","as":"v"}],"mark":{"type":"line","color":"#10109a","strokeWidth":1.6,"interpolate":"monotone"},"encoding":{"detail":{"field":"ex"}}},
{"data":{"name":"dashes"},"transform":[{"calculate":"datum.em+(datum.ex-247)*0.0634","as":"u"},{"calculate":"datum.i+(datum.ex-247)*3.746-(datum.em-300)*1.06","as":"v"}],"mark":{"type":"point","shape":"M-1,0L1,0","filled":false,"color":"#ffffff","strokeWidth":1,"opacity":0.9,"size":28}},
{"data":{"name":"ticks"},"transform":[{"calculate":"datum.em+(datum.ex-247)*0.0634","as":"u"},{"calculate":"datum.i+(datum.ex-247)*3.746-(datum.em-300)*1.06","as":"v"}],"mark":{"type":"line","color":"#555555","strokeWidth":1},"encoding":{"detail":{"field":"g"}}},
{"data":{"name":"frame"},"transform":[{"calculate":"datum.em+(datum.ex-247)*0.0634","as":"u"},{"calculate":"datum.i+(datum.ex-247)*3.746-(datum.em-300)*1.06","as":"v"}],"mark":{"type":"line","color":"#111111","strokeWidth":1.3},"encoding":{"detail":{"field":"g"}}},
{"data":{"name":"labelsI"},"transform":[{"calculate":"datum.em+(datum.ex-247)*0.0634","as":"u"},{"calculate":"datum.i+(datum.ex-247)*3.746-(datum.em-300)*1.06","as":"v"}],"mark":{"type":"text","align":"right","baseline":"middle","font":"DejaVu Sans","fontWeight":"bold","fontSize":8,"color":"#333333"},"encoding":{"text":{"field":"t"}}},
{"data":{"name":"labelsEm"},"transform":[{"calculate":"datum.em+(datum.ex-247)*0.0634","as":"u"},{"calculate":"datum.i+(datum.ex-247)*3.746-(datum.em-300)*1.06","as":"v"}],"mark":{"type":"text","align":"center","baseline":"middle","font":"DejaVu Sans","fontWeight":"bold","fontSize":8,"color":"#333333"},"encoding":{"text":{"field":"t"}}},
{"data":{"name":"labelsEx"},"transform":[{"calculate":"datum.em+(datum.ex-247)*0.0634","as":"u"},{"calculate":"datum.i+(datum.ex-247)*3.746-(datum.em-300)*1.06","as":"v"}],"mark":{"type":"text","align":"left","baseline":"middle","font":"DejaVu Sans","fontWeight":"bold","fontSize":8,"color":"#333333"},"encoding":{"text":{"field":"t"}}},
{"data":{"name":"notes"},"transform":[{"calculate":"datum.em+(datum.ex-247)*0.0634","as":"u"},{"calculate":"datum.i+(datum.ex-247)*3.746-(datum.em-300)*1.06","as":"v"}],"mark":{"type":"text","align":"left","baseline":"middle","font":"DejaVu Sans","fontWeight":"bold","fontSize":7.3,"color":"#2a2a9a"},"encoding":{"text":{"field":"t"}}},
{"data":{"name":"marks"},"transform":[{"calculate":"datum.em+(datum.ex-247)*0.0634","as":"u"},{"calculate":"datum.i+(datum.ex-247)*3.746-(datum.em-300)*1.06","as":"v"}],"mark":{"type":"text","align":"center","baseline":"middle","font":"Liberation Sans","fontWeight":"bold","fontSize":26,"color":"#ffffff","opacity":0.5},"encoding":{"text":{"field":"t"}}}
]},
{"width":1300,"height":30,"view":{"fill":"#f0f0f0"},
"encoding":{"x":{"field":"f","type":"quantitative","scale":{"domain":[0,1],"nice":false},"axis":null},"y":{"field":"h","type":"quantitative","scale":{"domain":[0,1],"nice":false},"axis":null}},
"layer":[
{"data":{"values":[{"f":0.0215,"f2":0.0431,"h":0.133,"h2":0.6,"c":"#ffffff"},{"f":0.0492,"f2":0.0738,"h":0.167,"h2":0.567,"c":"#e2e2e2"},{"f":0.0831,"f2":0.0908,"h":0.167,"h2":0.567,"c":"#d4d4d4"},{"f":0.0946,"f2":0.1023,"h":0.167,"h2":0.567,"c":"#e2e2e2"},{"f":0.002,"f2":0.998,"h":0.02,"h2":0.04,"c":"#c4c4c4"}]},"mark":{"type":"rect","stroke":"#bdbdbd","strokeWidth":0.8},"encoding":{"x2":{"field":"f2"},"y2":{"field":"h2"},"color":{"field":"c","type":"nominal","scale":null}}},
{"data":{"values":[{"t":"EX(nm):","f":0.0038,"h":0.367},{"t":"350","f":0.0238,"h":0.367}]},"mark":{"type":"text","align":"left","baseline":"middle","font":"Liberation Sans","fontSize":6.5,"color":"#444444"},"encoding":{"text":{"field":"t"}}},
{"data":{"values":[{"t":"Execute","f":0.0615,"h":0.367},{"t":"▲","f":0.087,"h":0.367},{"t":"▼","f":0.0985,"h":0.367}]},"mark":{"type":"text","align":"center","baseline":"middle","font":"DejaVu Sans","fontSize":6,"color":"#444444"},"encoding":{"text":{"field":"t"}}},
{"data":{"values":[{"t":"a","f":0.268,"h":0.6},{"t":"a","f":0.729,"h":0.6},{"t":"a","f":0.96,"h":0.6}]},"mark":{"type":"text","align":"center","baseline":"middle","font":"Liberation Sans","fontWeight":"bold","fontSize":30,"color":"#ffffff","opacity":0.6},"encoding":{"text":{"field":"t"}}},
{"data":{"values":[{"t":"alamy","f":0.5,"h":0.6}]},"mark":{"type":"text","align":"center","baseline":"middle","font":"Liberation Sans","fontWeight":"bold","fontSize":37,"color":"#ffffff","opacity":0.6},"encoding":{"text":{"field":"t"}}}
]},
{"width":1300,"height":12,"data":{"values":[{}]},"mark":{"type":"point","opacity":0}},
{"width":1300,"height":308,"data":{"name":"spectrum"},
"layer":[
{"mark":{"type":"line","strokeWidth":1.1,"interpolate":"monotone"},"encoding":{"x":{"field":"em","type":"quantitative","scale":{"domain":[300,500],"range":[43,1280],"nice":false,"zero":false},"axis":{"orient":"bottom","values":[300,350,400,450,500],"format":".1f","title":"EM Spectrum (nm)(EX:350.0nm)","titleFont":"Liberation Sans","titleFontSize":6,"titleFontWeight":"normal","titleColor":"#444444","titlePadding":2,"labelFont":"Liberation Sans","labelFontSize":7,"labelColor":"#555555","labelPadding":7,"tickSize":-4,"tickColor":"#555555","grid":false,"domain":true,"domainColor":"#777777","labelFlush":false,"labelOverlap":false}},"y":{"field":"i","type":"quantitative","scale":{"domain":[-114.4,1251.5],"nice":false,"zero":false},"axis":{"orient":"left","offset":-43,"values":[-114.4,0,500,1000,1251.5],"labelExpr":"datum.value<0?'-114.4':format(datum.value,'.1f')","title":"Intensity","titleFont":"Liberation Sans","titleFontSize":6,"titleFontWeight":"normal","titleColor":"#444444","titlePadding":12,"labelFont":"Liberation Sans","labelFontSize":7,"labelColor":"#555555","labelPadding":4,"tickSize":-4,"tickColor":"#555555","grid":false,"domain":true,"domainColor":"#777777","labelFlush":false,"labelOverlap":false}},"color":{"field":"s","type":"nominal","scale":{"domain":["a","b"],"range":["#5f97b4","#4d62ad"]},"legend":null}}},
{"mark":{"type":"line","opacity":0},"encoding":{"x":{"field":"em","type":"quantitative","axis":{"orient":"top","values":[350,400,450],"labels":false,"title":null,"tickSize":-4,"tickColor":"#555555","grid":false,"domain":true,"domainColor":"#777777"}},"y":{"field":"i","type":"quantitative","axis":{"orient":"right","offset":-20,"values":[0,500,1000],"labels":false,"title":null,"tickSize":-4,"tickColor":"#555555","grid":false,"domain":true,"domainColor":"#777777"}}}}
],"resolve":{"axis":{"x":"independent","y":"independent"}}},
{"width":1300,"height":21,"data":{"values":[{}]},"mark":{"type":"point","opacity":0}},
{"width":1300,"height":90,"view":{"fill":"#000000"},
"encoding":{"x":{"field":"f","type":"quantitative","scale":{"domain":[0,1],"nice":false},"axis":null},"y":{"field":"h","type":"quantitative","scale":{"domain":[0,1],"nice":false},"axis":null},"text":{"field":"t"}},
"layer":[
{"data":{"values":[{"t":"alamy","f":0.0385,"h":0.333}]},"mark":{"type":"text","align":"left","baseline":"alphabetic","font":"Liberation Sans","fontWeight":"bold","fontSize":38,"color":"#ffffff"}},
{"data":{"values":[{"t":"2WM2HJ7","f":0.9615,"h":0.567},{"t":"www.alamy.com","f":0.9615,"h":0.311}]},"mark":{"type":"text","align":"right","baseline":"alphabetic","font":"Liberation Sans","fontWeight":"bold","fontSize":17,"color":"#ffffff"}}
]}
]}
